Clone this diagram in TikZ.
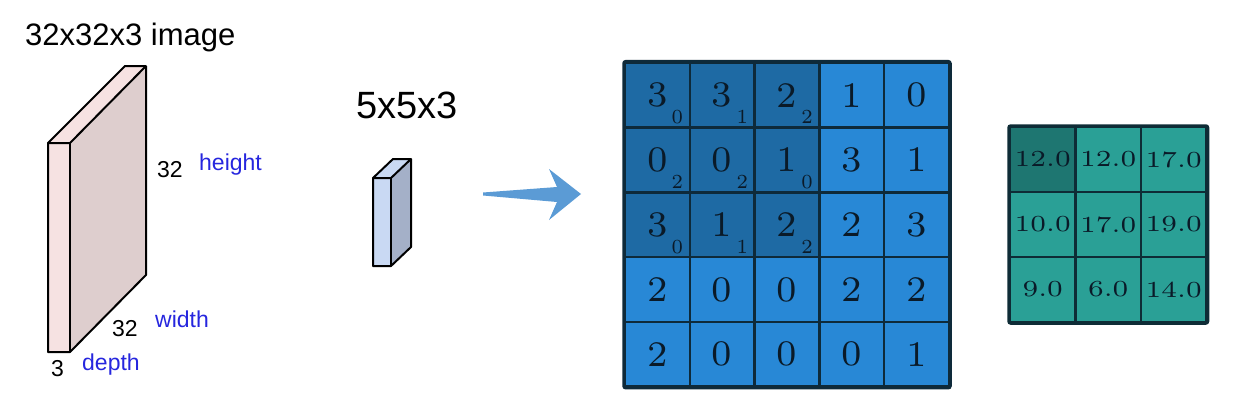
\documentclass[tikz,border=0pt]{standalone}
\usepackage{fontspec}
\newfontfamily\arialf{Liberation Sans}
\newfontfamily\lmseven{lmroman7-regular.otf}
\definecolor{labelblue}{RGB}{38,38,222}
\definecolor{slabfront}{RGB}{246,226,226}
\definecolor{slabside}{RGB}{222,206,206}
\definecolor{filtfront}{RGB}{201,217,243}
\definecolor{filtside}{RGB}{164,176,200}
\definecolor{arrowblue}{RGB}{91,155,213}
\definecolor{lightcell}{RGB}{40,136,214}
\definecolor{darkcell}{RGB}{30,106,164}
\definecolor{gridline}{RGB}{14,42,58}
\definecolor{digitcol}{RGB}{10,26,40}
\definecolor{tealcell}{RGB}{42,160,150}
\definecolor{darkteal}{RGB}{30,118,113}
\definecolor{tealline}{RGB}{14,44,54}
\begin{document}
\begin{tikzpicture}[x=1pt,y=-1pt,
  lbl/.style={font=\arialf\fontsize{23}{26}\selectfont, inner sep=0pt, anchor=base west},
  blulbl/.style={lbl, text=labelblue},
  title/.style={font=\arialf\fontsize{31}{36}\selectfont, inner sep=0pt, anchor=base west},
  facepath/.style={draw=black, line width=2pt, line join=round},
  incell/.style={draw=gridline, line width=2.5pt, fill=lightcell, minimum width=64.8pt,
    minimum height=64.8pt, inner sep=0pt, text=digitcol, font=\lmseven\fontsize{36}{40}\selectfont},
  subdig/.style={inner sep=0pt, text=digitcol, font=\lmseven\fontsize{20}{22}\selectfont},
  outcell/.style={draw=tealline, line width=2.5pt, fill=tealcell, minimum width=65.5pt,
    minimum height=65pt, inner sep=0pt, text=digitcol, font=\lmseven\fontsize{23}{26}\selectfont},
  ]
\useasboundingbox (0,0) rectangle (1240,410);

% ---- input volume 32x32x3
\fill[slabfront] (48,143) -- (70,143) -- (146,66) -- (125,66) -- cycle;
\fill[slabside] (70,143) -- (146,66) -- (146,275) -- (70,352) -- cycle;
\fill[slabfront] (48,143) rectangle (70,352);
\draw[facepath] (48,143) -- (125,66) -- (146,66) -- (146,275) -- (70,352) -- (48,352) -- cycle;
\draw[facepath] (48,143) -- (70,143) -- (146,66);
\draw[facepath] (70,143) -- (70,352);

\node[title] (ttl) at (25,45) {32x32x3 image};
\node[lbl] (h32) at (157,177) {32};
\node[blulbl] (hgt) at (199,170) {height};
\node[lbl] (w32) at (112,336) {32};
\node[blulbl] (wid) at (155,327) {width};
\node[lbl] (d3) at (51,376) {3};
\node[blulbl] (dep) at (82,370) {depth};

% ---- filter 5x5x3
\fill[filtfront] (373,178) -- (391,178) -- (411,159) -- (393,159) -- cycle;
\fill[filtside] (391,178) -- (411,159) -- (411,247) -- (391,266) -- cycle;
\fill[filtfront] (373,178) rectangle (391,266);
\draw[facepath] (373,178) -- (393,159) -- (411,159) -- (411,247) -- (391,266) -- (373,266) -- cycle;
\draw[facepath] (373,178) -- (391,178) -- (411,159);
\draw[facepath] (391,178) -- (391,266);
\node[title, font=\arialf\fontsize{38}{44}\selectfont] (ftl) at (356,118) {5x5x3};

% ---- arrow
\coordinate (atail) at (483,194);
\coordinate (atip) at (581,194);
\fill[arrowblue] (483,192.5) -- (557,187) -- (549,169) -- (atip) -- (549,220) -- (557,202) -- (483,195.5) -- cycle;

% ---- input grid 5x5
\foreach \r/\c/\v in {0/0/3,0/1/3,0/2/2,0/3/1,0/4/0,
                      1/0/0,1/1/0,1/2/1,1/3/3,1/4/1,
                      2/0/3,2/1/1,2/2/2,2/3/2,2/4/3,
                      3/0/2,3/1/0,3/2/0,3/3/2,3/4/2,
                      4/0/2,4/1/0,4/2/0,4/3/0,4/4/1}{
  \pgfmathtruncatemacro{\dk}{(\r<3)&&(\c<3)}
  \ifnum\dk=1
    \node[incell, fill=darkcell] (g-\r-\c) at ({657.4+64.8*\c},{95.1+64.8*\r}) {\v};
  \else
    \node[incell] (g-\r-\c) at ({657.4+64.8*\c},{95.1+64.8*\r}) {\v};
  \fi
}
\foreach \r/\c/\s in {0/0/0,0/1/1,0/2/2,1/0/2,1/1/2,1/2/0,2/0/0,2/1/1,2/2/2}{
  \node[subdig] (s-\r-\c) at ([xshift=20pt,yshift=-22pt]g-\r-\c.center) {\s};
}
\draw[draw=gridline, line width=3pt, rounded corners=2pt] (g-0-0.north west) rectangle (g-4-4.south east);

% ---- output grid 3x3
\foreach \r/\c/\v in {0/0/12.0,0/1/12.0,0/2/17.0,
                      1/0/10.0,1/1/17.0,1/2/19.0,
                      2/0/9.0,2/1/6.0,2/2/14.0}{
  \pgfmathtruncatemacro{\dk}{(\r==0)&&(\c==0)}
  \ifnum\dk=1
    \node[outcell, fill=darkteal] (o-\r-\c) at ({1042.75+65.5*\c},{159.5+65*\r}) {\scalebox{1.2}[1]{\v}};
  \else
    \node[outcell] (o-\r-\c) at ({1042.75+65.5*\c},{159.5+65*\r}) {\scalebox{1.2}[1]{\v}};
  \fi
}
\draw[draw=tealline, line width=3pt, rounded corners=2pt] (o-0-0.north west) rectangle (o-2-2.south east);
\end{tikzpicture}
\end{document}
